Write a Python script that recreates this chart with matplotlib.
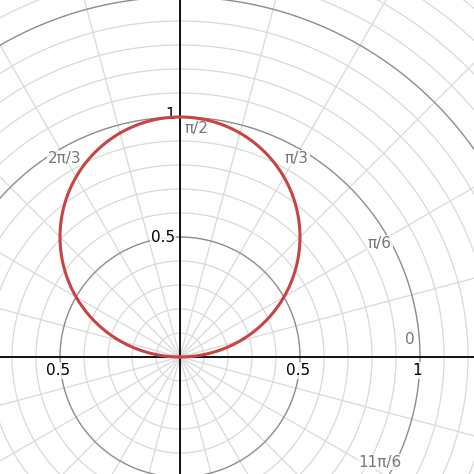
import numpy as np
import matplotlib
matplotlib.use("Agg")
import matplotlib.pyplot as plt

minor_radii = [0.1,0.2,0.3,0.4,0.6,0.7,0.8,0.9,1.1,1.2,1.3,1.4,1.6,1.7,1.8,1.9]
major_radii = [0.5,1.0,1.5]
radial_deg = list(range(0,360,15))
angle_labels = ["0","π/6","π/3","π/2","2π/3","11π/6"]
angle_label_x = [0.958,0.833,0.4875,0.07,-0.479,0.833]
angle_label_y = [0.071,0.475,0.829,0.954,0.829,-0.4375]
x_ticks = [-0.5,0.5,1]
x_tick_labels = ["0.5","0.5","1"]
y_ticks = [0.5,1]
y_tick_labels = ["0.5","1"]

fig = plt.figure(figsize=(4.74,4.74), dpi=100)
ax = fig.add_axes([0,0,1,1])
ax.set_xlim(-0.75,1.225)
ax.set_ylim(-0.4875,1.4875)
ax.axis('off')
t = np.linspace(0,2*np.pi,721)
for r in minor_radii:
    ax.plot(r*np.cos(t), r*np.sin(t), color='#d9d9d9', lw=0.9, zorder=1)
for r in major_radii:
    ax.plot(r*np.cos(t), r*np.sin(t), color='#8c8c8c', lw=1.0, zorder=2)
for d in radial_deg:
    a = np.radians(d)
    ax.plot([0,3*np.cos(a)],[0,3*np.sin(a)], color='#d9d9d9', lw=0.9, zorder=1)
ax.axhline(0, color='black', lw=1.3, zorder=3)
ax.axvline(0, color='black', lw=1.3, zorder=3)
th = np.linspace(0,np.pi,400)
r = np.sin(th)
ax.plot(r*np.cos(th), r*np.sin(th), color='#c74440', lw=2.2, zorder=5)
for lab, x, y in zip(angle_labels, angle_label_x, angle_label_y):
    ax.text(x, y, lab, color='#777777', fontsize=11,
            ha='center', va='center', zorder=4,
            bbox=dict(facecolor='white', edgecolor='none', pad=0.5, alpha=0.8))
for x, lab in zip(x_ticks, x_tick_labels):
    ax.text(x-0.01, -0.025, lab, fontsize=11, ha='center', va='top', zorder=4,
            bbox=dict(facecolor='white', edgecolor='none', pad=0.5, alpha=0.8))
for y, lab in zip(y_ticks, y_tick_labels):
    ax.text(-0.02, y + (0.01 if y == 1 else 0), lab, fontsize=11, ha='right', va='center', zorder=4,
            bbox=dict(facecolor='white', edgecolor='none', pad=0.5, alpha=0.8))
fig.savefig("out.png", dpi=100)
